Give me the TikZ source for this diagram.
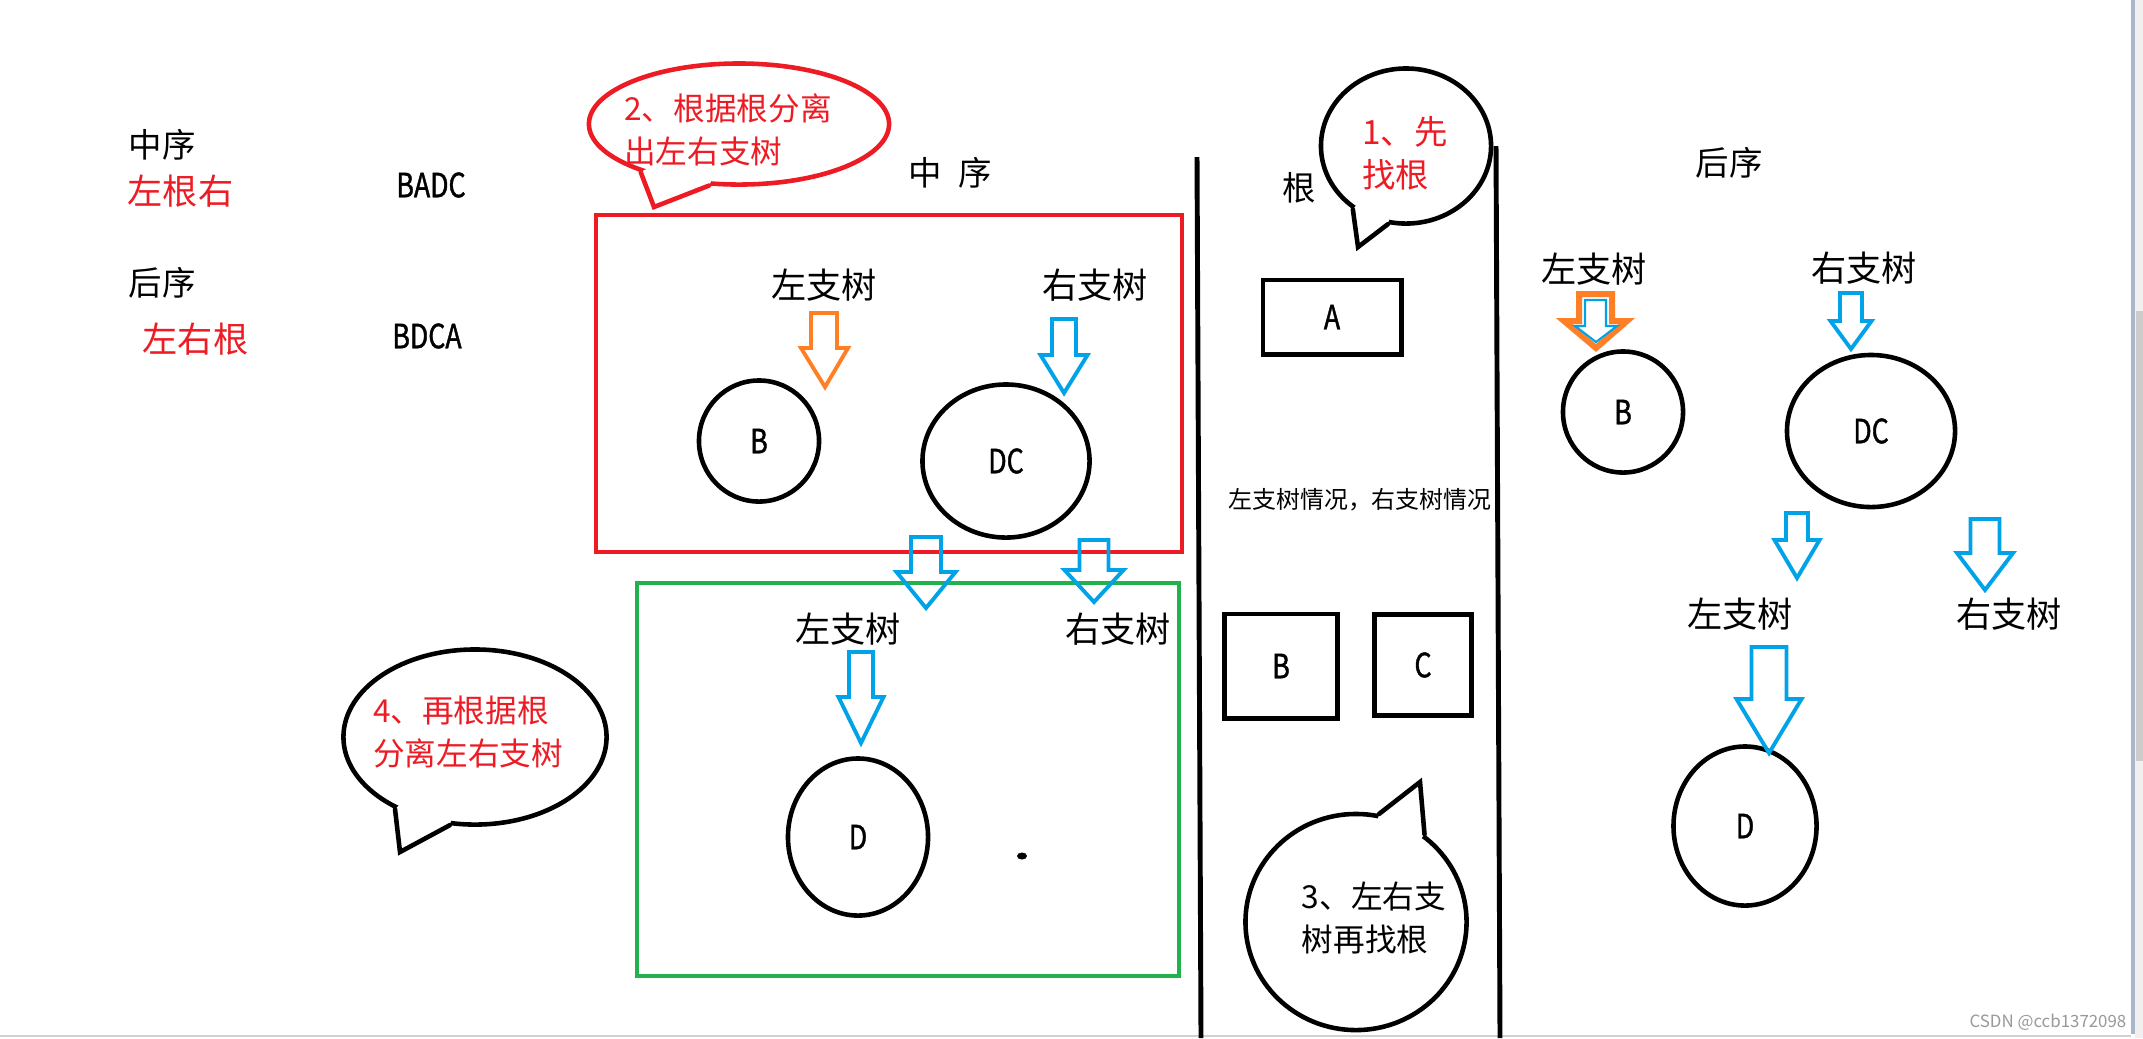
\documentclass[tikz,border=0pt]{standalone}
\usepackage{fontspec}
\setmainfont{Noto Sans CJK SC}
\newfontfamily\narrowfont[FakeStretch=0.8,FakeBold=1.2]{Noto Sans CJK SC}
\usetikzlibrary{shapes.geometric,calc}
\definecolor{paintred}{HTML}{ED1C24}
\definecolor{paintorange}{HTML}{FF7F27}
\definecolor{paintblue}{HTML}{00A2E8}
\definecolor{paintgreen}{HTML}{22B14C}
\definecolor{scrollblue}{HTML}{AAB6CA}

\begin{document}
\begin{tikzpicture}[x=0.01cm, y=-0.01cm,
  lbl/.style={inner sep=0, font=\fontsize{9.5}{12.2}\selectfont},
  sublbl/.style={inner sep=0, font=\fontsize{10}{12}\selectfont},
  letters/.style={inner sep=0, font=\narrowfont\fontsize{9.5}{12}\selectfont},
  bubble/.style={draw, ellipse, line width=1.3pt, inner sep=0},
  treenode/.style={draw, ellipse, line width=1.3pt, inner sep=0, font=\narrowfont\fontsize{9.5}{11}\selectfont},
  rootbox/.style={draw, rectangle, line width=1.4pt, inner sep=0, font=\narrowfont\fontsize{9.5}{11}\selectfont},
  frame/.style={line width=1.2pt},
  hollow/.style={line width=1.1pt, line join=miter},
  tail/.style={line width=1.3pt, line cap=round, line join=miter},
  divider/.style={line width=1.4pt}
]
\useasboundingbox (0,0) rectangle (2143,1038);
\fill[white] (0,0) rectangle (2143,1038);

% window edge of the screenshot
\fill[black!6] (2135,0) rectangle (2143,1038);
\fill[black!20] (2136,311) rectangle (2143,761);
\fill[scrollblue] (2131,0) rectangle (2135,1034);
\draw[black!18, line width=0.5pt] (0,1036) -- (2131,1036);

% left: the two orders
\node[lbl, anchor=west] (inord) at (128,145) {中序};
\node[lbl, anchor=west, paintred, font=\fontsize{10}{12}\selectfont] (inrule) at (127,191) {左根右};
\node[letters] (inseq) at (431,185) {BADC};
\node[lbl, anchor=west] (postord) at (128,283) {后序};
\node[lbl, anchor=west, paintred, font=\fontsize{10}{12}\selectfont] (postrule) at (142,339) {左右根};
\node[letters] (postseq) at (427,336) {BDCA};

% frames
\draw[frame, paintred] (596,215) rectangle (1182,552);
\draw[frame, paintgreen] (637,583) rectangle (1179,976);

% dividers of the root column
\draw[divider] (1197,157) -- (1201,1038);
\draw[divider] (1496,146) -- (1500,1038);

% speech bubbles
\node[bubble, draw=paintred, minimum width=3.00cm, minimum height=1.21cm] (bub2) at (739,124) {};
\node[bubble, minimum width=1.70cm, minimum height=1.55cm] (bub1) at (1406,146) {};
\node[bubble, minimum width=2.63cm, minimum height=1.75cm] (bub4) at (475,737) {};
\node[bubble, minimum width=2.21cm, minimum height=2.16cm] (bub3) at (1356,922) {};
\coordinate (tipbub2) at (654,207);
\coordinate (tipbub1) at (1358,247);
\coordinate (tipbub4) at (400,852);
\coordinate (tipbub3) at (1420,782);
\foreach \b/\a/\e/\col in {bub2/206/244/paintred, bub1/230/257/black, bub4/222/254/black, bub3/52/78/black}{
  \fill[white] ($(\b.center)!0.9!(\b.\a)$) -- (\b.\a) -- (tip\b) -- (\b.\e) -- ($(\b.center)!0.9!(\b.\e)$) -- cycle;
  \draw[tail, \col] (\b.\a) -- (tip\b) -- (\b.\e);
}

% inorder subtrees
\node[treenode, minimum width=1.20cm, minimum height=1.21cm] (mB) at (759,441) {B};
\node[treenode, minimum width=1.67cm, minimum height=1.53cm] (mDC) at (1006,461) {DC};
\node[treenode, minimum width=1.40cm, minimum height=1.57cm] (mD) at (858,837) {D};
\fill (1022,856) ellipse [x radius=0.05cm, y radius=0.035cm];

% roots
\node[lbl] (rootlbl) at (1299,188) {根};
\node[rootbox, minimum width=1.38cm, minimum height=0.74cm] (rA) at (1332,317) {A};
\node[inner sep=0, font=\fontsize{6.8}{8}\selectfont] (cases) at (1360,500) {左支树情况，右支树情况};
\node[rootbox, minimum width=1.13cm, minimum height=1.04cm] (rB) at (1281,666) {B};
\node[rootbox, minimum width=0.97cm, minimum height=1.01cm] (rC) at (1423,665) {C};

% postorder subtrees
\node[lbl] (postlbl) at (1729,163) {后序};
\node[treenode, minimum width=1.20cm, minimum height=1.21cm] (pB) at (1623,412) {B};
\node[treenode, minimum width=1.68cm, minimum height=1.52cm] (pDC) at (1871,431) {DC};
\node[treenode, minimum width=1.43cm, minimum height=1.59cm] (pD) at (1745,826) {D};

% subtree labels
\node[lbl] (midlbl) at (950,173) {中\hspace{0.5em}序};
\foreach \n/\x/\y/\t in {ml/824/285/左支树, mr/1095/285/右支树, gl/848/629/左支树, gr/1118/629/右支树,
                        pl/1594/269/左支树, pr/1864/268/右支树, ql/1740/614/左支树, qr/2009/614/右支树}
  \node[sublbl] (\n) at (\x,\y) {\t};

% hollow arrows
\draw[hollow, paintorange] (811,313) -- (811,348) -- (801,348) -- (825,387) -- (848,348) -- (837,348) -- (837,313) -- cycle;
\draw[hollow, paintorange, line width=1.7pt] (1579,294) -- (1579,321) -- (1564,321) -- (1596,348) -- (1627,321) -- (1612,321) -- (1612,294) -- cycle;
\draw[paintblue, line width=0.6pt] (1585,300) -- (1585,326) -- (1575,326) -- (1596,342) -- (1617,326) -- (1606,326) -- (1606,300) -- cycle;
\foreach \c/\t/\h/\p/\s/\w in {1064/319/355/393/12/23.5, 926/537/572/608/15/29.5, 1094/540/570/602/14.5/29.5,
                             861/652/697/743/12/22.5, 1851/293/321/349/11/20.5, 1797/513/540/578/11/22.5,
                             1985/519/553/590/14.5/28, 1769/647/699/753/17.5/32.5}
  \draw[hollow, paintblue] (\c-\s,\t) -- (\c-\s,\h) -- (\c-\w,\h) -- (\c,\p) -- (\c+\w,\h) -- (\c+\s,\h) -- (\c+\s,\t) -- cycle;

% bubble texts
\node[lbl, paintred, align=left, font=\fontsize{9}{12.2}\selectfont] (say2) at (728,130) {2、根据根分离\\出左右支树};
\node[lbl, paintred, align=left] (say1) at (1405,153) {1、先\\找根};
\node[lbl, paintred, align=left, font=\fontsize{9}{12.2}\selectfont] (say4) at (468,732) {4、再根据根\\分离左右支树};
\node[lbl, align=left, font=\fontsize{9}{12}\selectfont] (say3) at (1374,918) {3、左右支\\树再找根};

\node[inner sep=0, anchor=east, text=black!40, font=\fontsize{4.8}{6}\selectfont] (mark) at (2127,1022) {CSDN @ccb1372098};
\end{tikzpicture}
\end{document}
